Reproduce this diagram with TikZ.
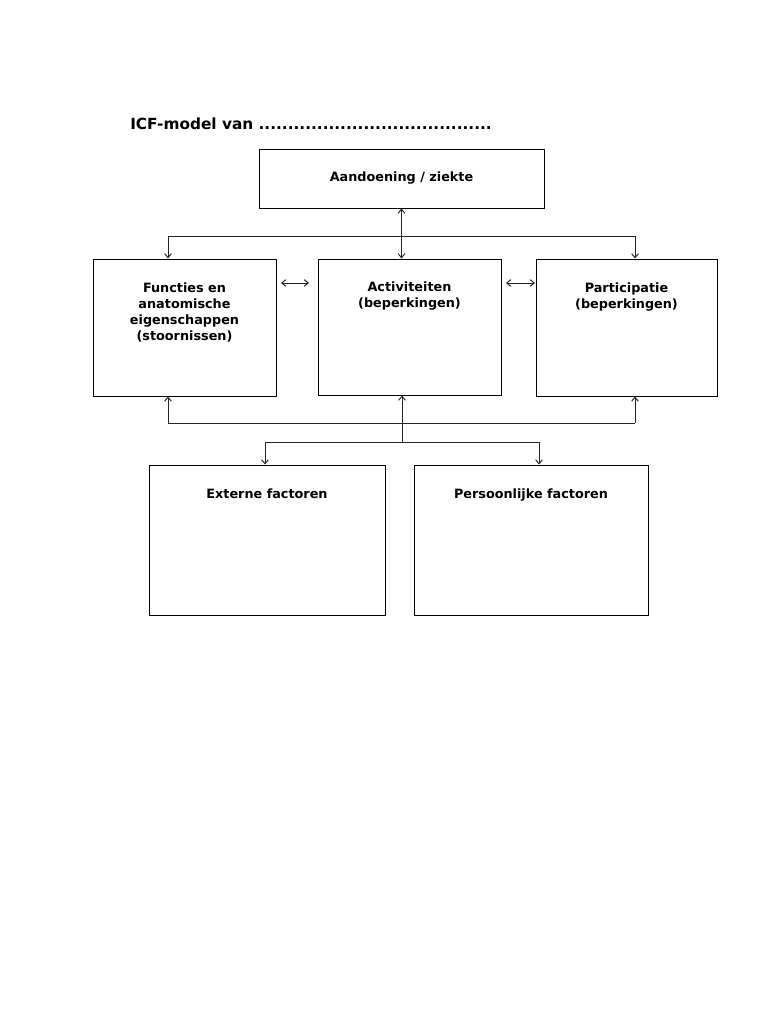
\documentclass[tikz,border=0pt]{standalone}
\usepackage{fontspec}
\setmainfont{DejaVu Sans}
\usetikzlibrary{arrows.meta}
\begin{document}
\begin{tikzpicture}[x=0.75pt,y=-0.75pt,
  box/.style={draw=black, line width=0.7pt, rectangle, inner sep=0pt},
  lbl/.style={font=\bfseries\fontsize{9.6}{12}\selectfont, align=center, inner sep=0pt, anchor=north},
  conn/.style={draw=black!85, line width=0.75pt},
  tip/.style={-{Straight Barb[length=3pt,width=5pt]}},
  dtip/.style={{Straight Barb[length=3pt,width=5pt]}-{Straight Barb[length=3pt,width=5pt]}}
]
\useasboundingbox (0,0) rectangle (768,1024);

% title
\node[font=\bfseries\fontsize{11.5}{14}\selectfont, anchor=base west, inner sep=0pt] (title) at (130,129.5) {ICF-model van ........................................};

% boxes
\node[box, minimum width=213.75pt, minimum height=44.25pt] (aand) at (401.5,178.5) {};
\node[box, minimum width=137.25pt, minimum height=102.75pt] (func) at (184.5,327.5) {};
\node[box, minimum width=137.25pt, minimum height=102pt] (act) at (409.5,327) {};
\node[box, minimum width=135.75pt, minimum height=102.75pt] (part) at (626.5,327.5) {};
\node[box, minimum width=177pt, minimum height=112.5pt] (ext) at (267,540) {};
\node[box, minimum width=175.5pt, minimum height=112.5pt] (pers) at (531,540) {};

% labels
\node[lbl, yshift=-17.5pt] (aandl) at (aand.north) {Aandoening / ziekte};
\node[lbl, yshift=-18.2pt] (funcl) at (func.north) {Functies en\\anatomische\\eigenschappen\\(stoornissen)};
\node[lbl, yshift=-17.6pt] (actl) at (act.north) {Activiteiten\\(beperkingen)};
\node[lbl, yshift=-18pt] (partl) at (part.north) {Participatie\\(beperkingen)};
\node[lbl, yshift=-18.2pt] (extl) at (ext.north) {Externe factoren};
\node[lbl, yshift=-18.2pt] (persl) at (pers.north) {Persoonlijke factoren};

% junction coordinates
\coordinate (tl) at (168,236);
\coordinate (tr) at (635,236);
\coordinate (bl) at (168,423);
\coordinate (br) at (635,423);
\coordinate (bm) at (402,442);
\coordinate (el) at (265,442);
\coordinate (pr) at (539,442);
\coordinate (h1a) at (281,283);
\coordinate (h1b) at (309,283);
\coordinate (h2a) at (506,283);
\coordinate (h2b) at (535,283);

% top connectors
\draw[conn, dtip] (aand.south) -- (aand.south |- act.north);
\draw[conn] (tl) -- (tr);
\draw[conn, tip] (tl) -- (tl |- func.north);
\draw[conn, tip] (tr) -- (tr |- part.north);

% side double arrows
\draw[conn, dtip] (h1a) -- (h1b);
\draw[conn, dtip] (h2a) -- (h2b);

% bottom connectors
\draw[conn] (bl) -- (br);
\draw[conn, tip] (bl) -- (bl |- func.south);
\draw[conn, tip] (br) -- (br |- part.south);
\draw[conn, tip] (bm) -- (bm |- act.south);
\draw[conn] (el) -- (pr);
\draw[conn, tip] (el) -- (el |- ext.north);
\draw[conn, tip] (pr) -- (pr |- pers.north);
\end{tikzpicture}
\end{document}
